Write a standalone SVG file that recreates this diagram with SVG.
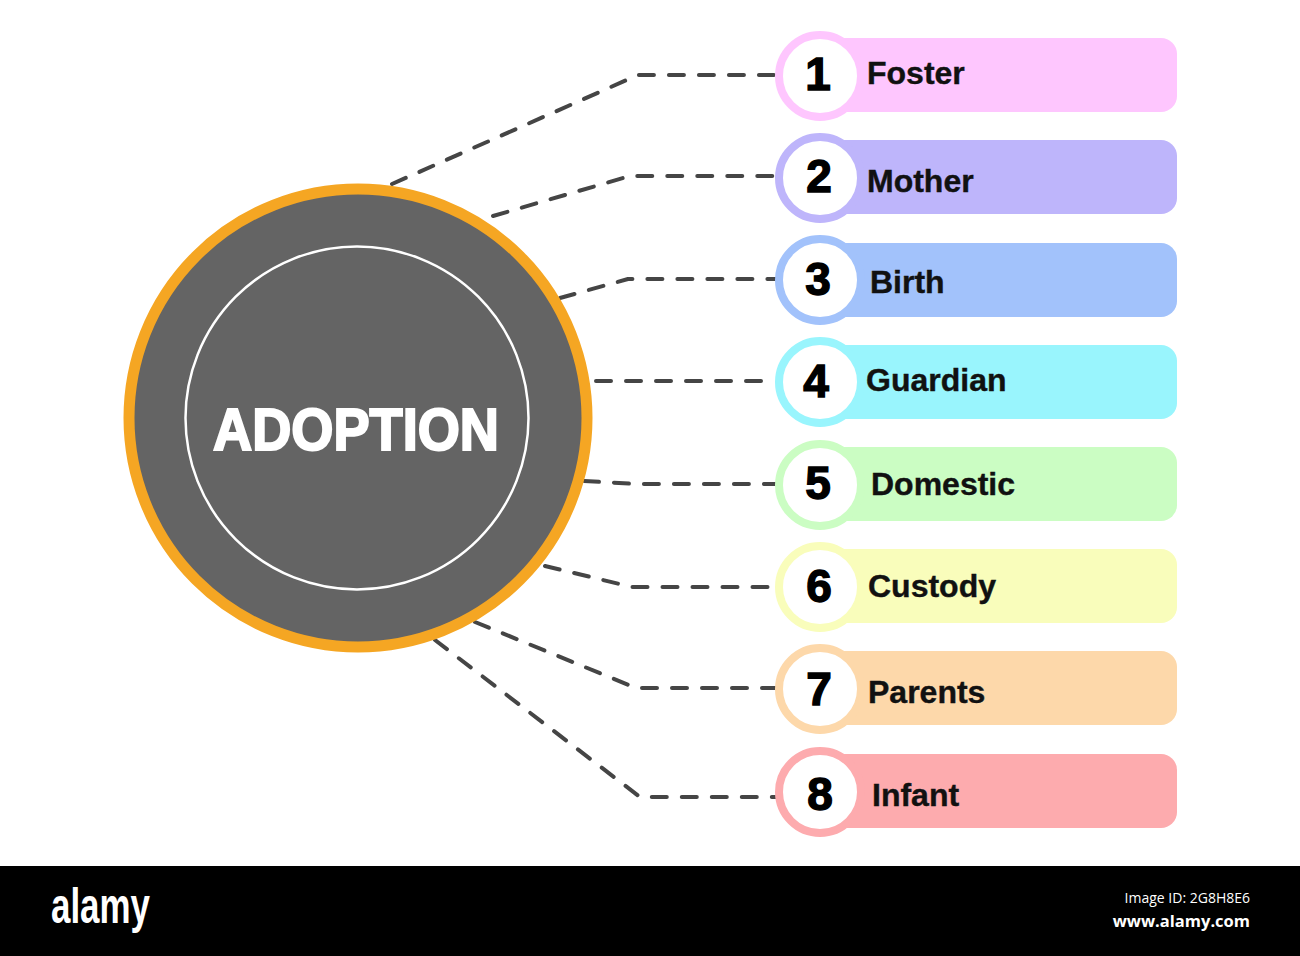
<svg xmlns="http://www.w3.org/2000/svg" width="1300" height="956" viewBox="0 0 1300 956">
<style>
.conn{fill:none;stroke:#454545;stroke-width:4;stroke-dasharray:15 15;stroke-linecap:round;stroke-linejoin:round}
.num{font-family:"Liberation Sans",Arial,sans-serif;font-weight:bold;font-size:46px;fill:#000;stroke:#000;stroke-width:1.4px;text-anchor:middle}
.lbl{font-family:"Liberation Sans",Arial,sans-serif;font-weight:bold;font-size:32px;fill:#111;stroke:#111;stroke-width:0.4px}
.ring{fill:#fff;stroke-width:8}
</style>
<rect x="0" y="0" width="1300" height="956" fill="#fff"/>
<g id="connectors">
<path class="conn" d="M392 184 L638 75 L776 75"/>
<path class="conn" d="M493 216 L630 176 L776 176"/>
<path class="conn" d="M560 298 L628 279 L776 279"/>
<path class="conn" d="M596 381 L776 381"/>
<path class="conn" d="M584 481 L636 484 L776 484"/>
<path class="conn" d="M545 566 L632 587 L776 587"/>
<path class="conn" d="M475 622 L636 688 L776 688"/>
<path class="conn" d="M435 640 L640 797 L776 797"/>
</g>
<g id="adoption">
<circle cx="358" cy="418" r="229" fill="#646464" stroke="#F5A623" stroke-width="11"/>
<circle cx="357" cy="418" r="171.5" fill="none" stroke="#fff" stroke-width="2.5"/>
<text x="356" y="450" font-family="'Liberation Sans',Arial,sans-serif" font-weight="bold" font-size="60" fill="#fff" stroke="#fff" stroke-width="2.2" text-anchor="middle" textLength="286" lengthAdjust="spacingAndGlyphs">ADOPTION</text>
</g>
<g id="item1">
<rect x="818" y="38" width="359" height="74" rx="16" fill="#FEC6FE"/>
<circle class="ring" cx="820" cy="76" r="41" stroke="#FEC6FE"/>
<text class="num" x="818" y="90">1</text>
<text class="lbl" x="867" y="84">Foster</text>
</g>
<g id="item2">
<rect x="818" y="140" width="359" height="74" rx="16" fill="#BEB5FB"/>
<circle class="ring" cx="820" cy="178" r="41" stroke="#BEB5FB"/>
<text class="num" x="819" y="192">2</text>
<text class="lbl" x="867" y="192">Mother</text>
</g>
<g id="item3">
<rect x="818" y="243" width="359" height="74" rx="16" fill="#A2C2FB"/>
<circle class="ring" cx="820" cy="280" r="41" stroke="#A2C2FB"/>
<text class="num" x="818" y="295">3</text>
<text class="lbl" x="870" y="293">Birth</text>
</g>
<g id="item4">
<rect x="818" y="345" width="359" height="74" rx="16" fill="#99F5FD"/>
<circle class="ring" cx="820" cy="382" r="41" stroke="#99F5FD"/>
<text class="num" x="816" y="397">4</text>
<text class="lbl" x="866" y="391">Guardian</text>
</g>
<g id="item5">
<rect x="818" y="447" width="359" height="74" rx="16" fill="#CBFDC3"/>
<circle class="ring" cx="820" cy="485" r="41" stroke="#CBFDC3"/>
<text class="num" x="818" y="499">5</text>
<text class="lbl" x="871" y="495">Domestic</text>
</g>
<g id="item6">
<rect x="818" y="549" width="359" height="74" rx="16" fill="#F9FDBB"/>
<circle class="ring" cx="820" cy="587" r="41" stroke="#F9FDBB"/>
<text class="num" x="819" y="602">6</text>
<text class="lbl" x="868" y="597">Custody</text>
</g>
<g id="item7">
<rect x="818" y="651" width="359" height="74" rx="16" fill="#FDD8AA"/>
<circle class="ring" cx="820" cy="689" r="41" stroke="#FDD8AA"/>
<text class="num" x="819" y="705">7</text>
<text class="lbl" x="868" y="703">Parents</text>
</g>
<g id="item8">
<rect x="818" y="754" width="359" height="74" rx="16" fill="#FDABAE"/>
<circle class="ring" cx="820" cy="792" r="41" stroke="#FDABAE"/>
<text class="num" x="820" y="810" font-size="50">8</text>
<text class="lbl" x="872" y="806">Infant</text>
</g>
<g id="footer">
<rect x="0" y="866" width="1300" height="90" fill="#000"/>
<text x="51" y="923" font-family="'Liberation Sans',Arial,sans-serif" font-weight="bold" font-size="50" fill="#fff" textLength="99" lengthAdjust="spacingAndGlyphs">alamy</text>
<text x="1250" y="903" font-family="'Open Sans','DejaVu Sans',sans-serif" font-size="14" fill="#fff" text-anchor="end">Image ID: 2G8H8E6</text>
<text x="1250" y="927" font-family="'Open Sans','DejaVu Sans',sans-serif" font-weight="bold" font-size="16.5" fill="#fff" text-anchor="end">www.alamy.com</text>
</g>
</svg>
